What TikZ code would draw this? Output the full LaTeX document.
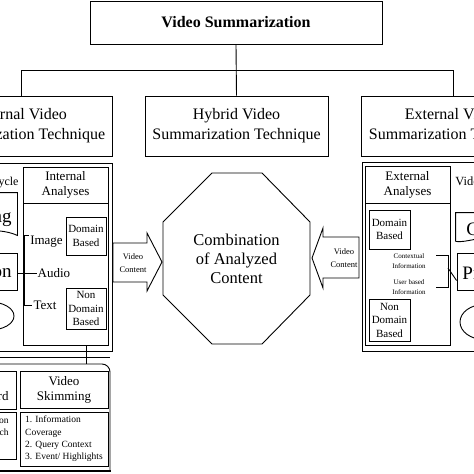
\documentclass[tikz,border=0pt]{standalone}
\usepackage{fontspec}
\setmainfont{Liberation Serif}
\usetikzlibrary{positioning, shapes.geometric}
\newcommand\fsz[2]{\fontsize{#1}{#2}\selectfont}

\begin{document}
\begin{tikzpicture}[
	x=1pt, y=-1pt,
	line width=0.9pt,
	box/.style = {draw, inner sep=0pt, align=center},
	lbl/.style = {inner sep=0pt, align=center},
	big/.style = {font=\fsz{16}{20}},
	mid/.style = {font=\fsz{13}{15}},
	sml/.style = {font=\fsz{11}{13.5}},
	]
\useasboundingbox (0,0) rectangle (474,474);
\clip (0,0) rectangle (474,474);
%
\node[box, minimum width=292, minimum height=43, font=\bfseries\fsz{16}{20}] (vs) at (236,22.5) {Video Summarization};
\node[box, big, minimum width=182, minimum height=60] (ivs) at (21,126) {Internal Video\\Summarization Technique};
\node[box, big, minimum width=183, minimum height=60] (hvs) at (236.5,126) {Hybrid Video\\Summarization Technique};
\node[box, big, minimum width=184, minimum height=60] (evs) at (453,126) {External Video\\Summarization Technique};
\draw (vs.south) -- (hvs.north);
\draw (ivs.north) -- ++(0,-25) -| (evs.north);
%
% left panel
\node[box, minimum width=142, minimum height=188] (lpo) at (41,257) {};
\node[box, mid, minimum width=85, minimum height=36] (iah) at (65.5,185) {Internal\\Analyses};
\node[box, minimum width=85, minimum height=142] (iab) at (65.5,274) {};
\node[box, sml, minimum width=40, minimum height=38] (db1) at (86,236) {Domain\\Based};
\node[box, sml, minimum width=40, minimum height=41] (ndb1) at (86,308.5) {Non\\Domain\\Based};
\node[lbl, font=\fsz{13}{15}] (img) at (46.5,242) {Image};
\node[lbl, font=\fsz{13}{15}] (aud) at (54,273) {Audio};
\node[lbl, font=\fsz{13}{15}] (txt) at (45,305) {Text};
\draw ([xshift=-1pt]img.north west) -- ++(-4,0) |- ([xshift=-1pt]txt.west);
\node[lbl, font=\fsz{12}{14}, anchor=east] (lc1) at (19,183) {Video Lifecycle};
\node[minimum width=78, minimum height=42, inner sep=0pt] (cap1) at (-22,214) {};
\draw (cap1.south west) -- (cap1.north west) -- (cap1.north east) -- (cap1.south east)
	.. controls (8,231) and (-8,229) .. (-22,232) .. controls (-40,236) .. (cap1.south west);
\node[lbl, font=\fsz{19}{22}, anchor=east] at (12,218) {Capturing};
\node[box, minimum width=78, minimum height=37] (prod1) at (-22,271.5) {};
\node[lbl, font=\fsz{19}{22}, anchor=east] at (12,271) {Production};
\draw (prod1.east |- aud) -- (aud.west);
\node[draw, ellipse, minimum width=48, minimum height=28] (el1) at (-10,316) {};
%
% lower left panel
\coordinate (lowtop) at (86,364);
\draw (iab.south -| lowtop) -- (lowtop);
\draw (-10,357) -- (110,357);
\draw[rounded corners=8pt] (-10,364) -- (110,364) -- (110,471);
\draw[line width=1.4pt] (-10,471) -- (111,471);
\node[box, mid, minimum width=88, minimum height=37] (skh) at (64,389.5) {Video\\Skimming};
\node[box, font=\fsz{9.5}{12.3}, align=left, minimum width=88, minimum height=54] (skl) at (64,439)
	{1. Information\\Coverage\\2. Query Context\\3. Event/ Highlights};
\node[box, minimum width=76, minimum height=38] (kfh) at (-22,390) {};
\node[lbl, mid, anchor=east] at (9,390) {Video\\Storyboard};
\node[box, minimum width=76, minimum height=47] (kfl) at (-22,435.5) {};
\node[lbl, font=\fsz{9.5}{12.3}, anchor=east, align=right] at (9,426) {1. Frame Selection\\2. Cluster Search};
%
% centre
\draw (212,173) -- (262,173) -- (310,222) -- (310,295) -- (262,344) -- (212,344) -- (163,295) -- (163,222) -- cycle;
\node[lbl, font=\fsz{16.5}{19}] (comb) at (236.5,259) {Combination\\of Analyzed\\Content};
\draw (113,243) -- (147,243) -- (147,233) -- (162,262) -- (147,291) -- (147,282) -- (113,282) -- cycle;
\node[lbl, font=\fsz{8.5}{13}] (vc1) at (133,263.5) {Video\\Content};
\draw (312,258) -- (323,228) -- (323,237) -- (359,237) -- (359,278) -- (323,278) -- (323,288) -- cycle;
\node[lbl, font=\fsz{8.5}{13}] (vc2) at (344,258) {Video\\Content};
%
% right panel
\node[box, minimum width=158, minimum height=189] (rpo) at (441,256.5) {};
\node[box, mid, minimum width=85, minimum height=37] (eah) at (407.5,184.5) {External\\Analyses};
\node[box, minimum width=85, minimum height=142] (eab) at (407.5,274) {};
\node[box, sml, minimum width=41, minimum height=39] (db2) at (389.5,229.5) {Domain\\Based};
\node[box, sml, minimum width=41, minimum height=42] (ndb2) at (389.5,320) {Non\\Domain\\Based};
\node[lbl, font=\fsz{7}{10}] (ctx) at (409,261.5) {Contextual\\Information};
\node[lbl, font=\fsz{7}{10}] (usr) at (409,287.5) {User based\\Information};
\draw (436,255) -| (448,287) -- (436,287);
\node[lbl, font=\fsz{12.5}{14}, anchor=west] (lc2) at (455,182) {Video Lifecycle};
\node[minimum width=84, minimum height=28, inner sep=0pt] (cap2) at (498,227) {};
\draw (cap2.south west) -- (cap2.north west) -- (cap2.north east) -- (cap2.south east)
	.. controls (520,238) .. (498,238) .. controls (480,236) and (466,243) .. (cap2.south west);
\node[lbl, font=\fsz{19}{22}, anchor=west] at (466,231) {Capturing};
\node[box, minimum width=84, minimum height=37] (prod2) at (499,271.5) {};
\node[lbl, font=\fsz{19}{22}, anchor=west] at (462,273) {Production};
\draw (448,268) -- ([yshift=-9pt]prod2.west);
\node[draw, ellipse, minimum width=48, minimum height=35] (el2) at (484,322) {};
\end{tikzpicture}
\end{document}
